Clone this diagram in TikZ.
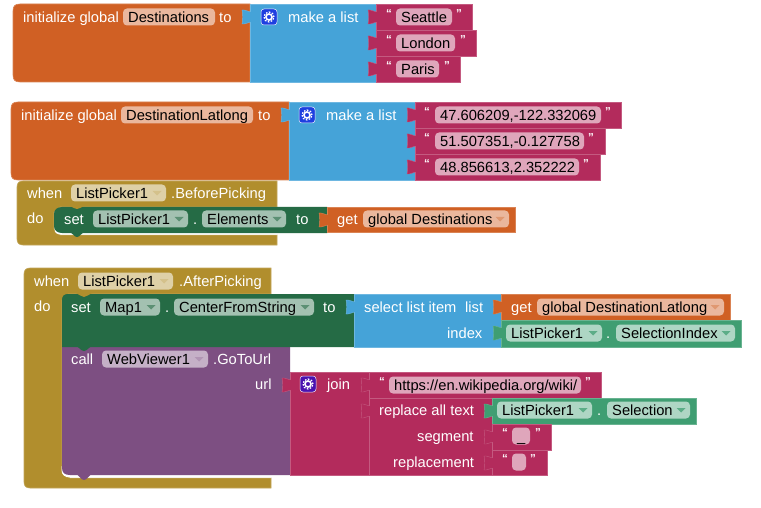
\documentclass[tikz,border=0pt]{standalone}
\usepackage{fontspec}
\setmainfont{Liberation Sans}
\definecolor{cOrange}{HTML}{D06024}
\definecolor{cBlue}{HTML}{45A3D8}
\definecolor{cMag}{HTML}{B32B5C}
\definecolor{cGold}{HTML}{B18E2D}
\definecolor{cDark}{HTML}{256B45}
\definecolor{cPurple}{HTML}{7D4F82}
\definecolor{cGreen}{HTML}{3F9E72}
\definecolor{cIconB}{HTML}{1E3FE0}
\definecolor{cIconP}{HTML}{4A12B0}
\newcounter{nn}
\tikzset{
  x=1pt,y=-1pt,
  txt/.style={anchor=west,inner sep=0pt,font=\fontsize{14.7}{16}\selectfont,text height=10.5pt,text depth=0pt},
  wlab/.style={txt,text=white},
  blab/.style={txt,text=black},
  qt/.style={anchor=center,inner sep=0pt,text=white,font=\fontsize{11.5}{13}\bfseries\selectfont},
  fld/.style={rounded corners=4pt},
  edge/.style={line width=.6pt},
}
% block body: colour, x1,y1,x2,y2
\newcommand{\blk}[5]{\path[fill=#1,draw=#1!78!white,edge] (#2,#3) rectangle (#4,#5);}
% value block rounded on its left side only
\newcommand{\rblk}[5]{\path[fill=#1,draw=#1!78!white,edge] (#4,#3) -- (#2+7,#3) .. controls (#2+2,#3) and (#2,#3+2) .. (#2,#3+7) -- (#2,#5-7) .. controls (#2,#5-2) and (#2+2,#5) .. (#2+7,#5) -- (#4,#5) -- cycle;}
% puzzle tab to the left of x, block top y
\newcommand{\tabp}[3]{\path[fill=#1,draw=#1!78!white,line width=.4pt] (#2+.5,#3+8) .. controls (#2-2,#3+8) and (#2-3,#3+6) .. (#2-6,#3+6) -- (#2-8,#3+6) .. controls (#2-7,#3+10) and (#2-7,#3+16) .. (#2-8,#3+20) -- (#2-6,#3+20) .. controls (#2-3,#3+20) and (#2-2,#3+18) .. (#2+.5,#3+18);
  \fill[#1] (#2-1,#3+8.3) rectangle (#2+1,#3+17.7);}
\newcommand{\wl}[3]{\stepcounter{nn}\node[wlab] (t\thenn) at (#1,#2) {#3};}
\newcommand{\fl}[5]{% colour, x1, x2, yc, text
  \fill[#1,fld] (#2,#4-8.5) rectangle (#3,#4+8.5);
  \stepcounter{nn}\node[blab] (t\thenn) at (#2+5,#4) {#5};}
\newcommand{\tri}[3]{\fill[#1] (#2-4.5,#3-2) -- (#2+4.5,#3-2) -- (#2,#3+2.5) -- cycle;}
\newcommand{\ddf}[6]{% field colour, tri colour, x1,x2,yc,text
  \fl{#1}{#3}{#4}{#5}{#6}\tri{#2}{#4-9}{#5}}
\newcommand{\icon}[3]{\fill[#1,rounded corners=3pt] (#2,#3-8) rectangle (#2+16,#3+8);
  \draw[white!90!#1,line width=.5pt,rounded corners=3pt] (#2,#3-8) rectangle (#2+16,#3+8);
  \draw[white,line width=1.6pt] (#2+8,#3) circle (3pt);
  \draw[white,line width=1.3pt,dash pattern=on 1.6pt off 1.5pt] (#2+8,#3) circle (5pt);}
\newcommand{\str}[4]{\blk{cMag}{#1}{#3}{#2}{#4}\tabp{cMag}{#1}{#3}}
\newcommand{\qo}[2]{\stepcounter{nn}\node[qt] (t\thenn) at (#1,#2-3.5) {“};}
\newcommand{\qc}[2]{\stepcounter{nn}\node[qt] (t\thenn) at (#1,#2-3.5) {”};}
\colorlet{fOr}{cOrange!45!white}
\colorlet{fMag}{cMag!42!white}
\colorlet{fDk}{cDark!42!white}
\colorlet{fGr}{cGreen!42!white}
\colorlet{fGo}{cGold!42!white}
\colorlet{fPu}{cPurple!45!white}
\colorlet{tDk}{cDark!75!white}
\colorlet{tGr}{cGreen!85!white}
\colorlet{tGo}{cGold!55!white}
\colorlet{tOr}{cOrange!65!white}
\colorlet{tPu}{cPurple!60!white}
\begin{document}
\begin{tikzpicture}
\useasboundingbox[fill=white] (0,0) rectangle (761,508);
% ---- block 1
\rblk{cOrange}{13}{4}{250}{82}
\blk{cBlue}{250}{4}{376}{82}
\tabp{cBlue}{250}{4}
\wl{23}{17}{initialize global}
\fl{fOr}{123}{215}{17}{Destinations}
\wl{219}{17}{to}
\icon{cIconB}{261}{17}
\wl{288}{17}{make a list}
\str{376}{472}{4}{30}
\str{376}{476}{30}{56}
\str{376}{460}{56}{82}
\qo{389}{17}\fl{fMag}{396}{452}{17}{Seattle}\qc{459}{17}
\qo{389}{43}\fl{fMag}{396}{455}{43}{London}\qc{463}{43}
\qo{389}{69}\fl{fMag}{396}{439}{69}{Paris}\qc{447}{69}
% ---- block 2
\rblk{cOrange}{11}{102}{289}{180}
\blk{cBlue}{289}{102}{415}{180}
\tabp{cBlue}{289}{102}
\wl{21}{115}{initialize global}
\fl{fOr}{121}{253}{115}{DestinationLatlong}
\wl{258}{115}{to}
\icon{cIconB}{299}{115}
\wl{326}{115}{make a list}
\str{415}{621}{102}{128}
\str{415}{605}{128}{154}
\str{415}{600}{154}{180}
\qo{427}{115}\fl{fMag}{435}{601}{115}{47.606209,-122.332069}\qc{608}{115}
\qo{427}{141}\fl{fMag}{435}{584}{141}{51.507351,-0.127758}\qc{591}{141}
\qo{427}{167}\fl{fMag}{435}{579}{167}{48.856613,2.352222}\qc{586}{167}
% ---- when 1
\path[fill=cGold,draw=cGold!78!white,edge] (277,181) -- (23,181) .. controls (19,181) and (17,183) .. (17,187) -- (17,239) .. controls (17,243) and (19,245) .. (23,245) -- (277,245) -- (277,235) -- (60,235) -- (54,229) -- (54,212) -- (60,207) -- (277,207) -- cycle;
\fill[white] (54.5,224) -- (54.5,229) .. controls (54.5,233) and (57,234.5) .. (61,234.5) -- (277,234.5) -- (277,232) -- (62,232) -- cycle;
\fill[cDark] (327,207) -- (62,207) .. controls (57,207) and (54,210) .. (54,214) -- (54,226) .. controls (54,230) and (57,233) .. (62,233) -- (327,233) -- cycle;
\fill[cDark] (70,232) .. controls (73,233) and (74,237) .. (77,237) .. controls (80,237) and (81,233) .. (84,232) -- cycle;
\fill[cGold] (70,206) .. controls (73,207) and (74,209) .. (77,209) .. controls (80,209) and (81,207) .. (84,206) -- cycle;
\blk{cOrange}{327}{207}{515}{232}
\tabp{cOrange}{327}{207}
\wl{27}{193}{when}
\ddf{fGo}{tGo}{71}{166}{193}{ListPicker1}
\wl{171}{193}{.BeforePicking}
\wl{27}{218}{do}
\wl{64}{219}{set}
\ddf{fDk}{tDk}{93}{188}{219}{ListPicker1}
\wl{193}{219}{.}
\ddf{fDk}{tDk}{202}{286}{219}{Elements}
\wl{296}{219}{to}
\wl{337}{219}{get}
\ddf{fOr}{tOr}{363}{509}{219}{global Destinations}
% ---- when 2
\path[fill=cGold,draw=cGold!78!white,edge] (271,268) -- (30,268) .. controls (26,268) and (24,270) .. (24,274) -- (24,482) .. controls (24,486) and (26,488) .. (30,488) -- (271,488) -- (271,478) -- (70,478) -- (62,470) -- (62,300) -- (68,294) -- (271,294) -- cycle;
\fill[white] (61.5,466) -- (61.5,470) .. controls (61.5,475) and (65,477.5) .. (70,477.5) -- (271,477.5) -- (271,475) -- (70,475) -- cycle;
\fill[cPurple] (290,347) -- (62,347) -- (62,468) .. controls (62,473) and (65,475) .. (70,475) -- (290,475) -- cycle;
\fill[cPurple] (76,474) .. controls (79,475) and (81,480) .. (84,480) .. controls (87,480) and (89,475) .. (92,474) -- cycle;
\fill[cDark] (354,294) -- (68,294) .. controls (64,294) and (62,296) .. (62,300) -- (62,347) -- (354,347) -- cycle;
\fill[cDark] (76,346) .. controls (79,347) and (81,351) .. (84,351) .. controls (87,351) and (89,347) .. (92,346) -- cycle;
\fill[cGold] (76,293) .. controls (79,294) and (81,297) .. (84,297) .. controls (87,297) and (89,294) .. (92,293) -- cycle;
\blk{cBlue}{354}{294}{501}{347}
\tabp{cBlue}{354}{294}
\blk{cOrange}{501}{294}{730}{320}
\tabp{cOrange}{501}{294}
\blk{cGreen}{501}{320}{741}{347}
\tabp{cGreen}{501}{320}
\wl{34}{281}{when}
\ddf{fGo}{tGo}{78}{173}{281}{ListPicker1}
\wl{179}{281}{.AfterPicking}
\wl{34}{306}{do}
\wl{71}{307}{set}
\ddf{fDk}{tDk}{100}{160}{307}{Map1}
\wl{165}{307}{.}
\ddf{fDk}{tDk}{174}{314}{307}{CenterFromString}
\wl{323}{307}{to}
\wl{364}{307}{select list item}
\wl{465}{307}{list}
\wl{511}{307}{get}
\ddf{fOr}{tOr}{537}{724}{307}{global DestinationLatlong}
\wl{447}{333}{index}
\ddf{fGr}{tGr}{506}{602}{333}{ListPicker1}
\wl{606}{333}{.}
\ddf{fGr}{tGr}{616}{735}{333}{SelectionIndex}
% call
\wl{71}{359}{call}
\ddf{fPu}{tPu}{102}{208}{359}{WebViewer1}
\wl{213}{359}{.GoToUrl}
\wl{255}{384}{url}
\blk{cMag}{290}{372}{369}{475}
\tabp{cMag}{290}{372}
\icon{cIconP}{300}{384}
\wl{327}{384}{join}
\blk{cMag}{369}{372}{601}{398}
\tabp{cMag}{369}{372}
\blk{cMag}{369}{398}{492}{475}
\tabp{cMag}{369}{398}
\blk{cGreen}{492}{398}{696}{424}
\tabp{cGreen}{492}{398}
\blk{cMag}{492}{424}{551}{450}
\tabp{cMag}{492}{424}
\blk{cMag}{492}{450}{547}{475}
\tabp{cMag}{492}{450}
\qo{382}{385}\fl{fMag}{389}{581}{385}{https://en.wikipedia.org/wiki/}\qc{588}{385}
\wl{379}{410}{replace all text}
\ddf{fGr}{tGr}{497}{592}{410}{ListPicker1}
\wl{597}{410}{.}
\ddf{fGr}{tGr}{607}{690}{410}{Selection}
\wl{417}{436}{segment}
\qo{505}{436}\fl{fMag}{512}{530}{436}{\_}\qc{538}{436}
\wl{393}{462}{replacement}
\qo{505}{462}\fill[fMag,fld] (512,453.5) rectangle (526,470.5);\qc{533}{462}
\end{tikzpicture}
\end{document}
